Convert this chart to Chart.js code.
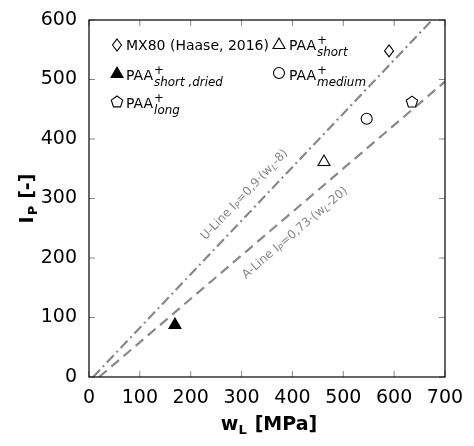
<!DOCTYPE html>
<html><head><meta charset="utf-8">
<script src="https://cdn.jsdelivr.net/npm/chart.js@4"></script>
<style>body{margin:0;background:#fff}#wrap{width:474px;height:446px}</style>
</head><body><div id="wrap"><canvas id="c" width="474" height="446"></canvas></div>
<script>
// data
var mx80 = [{x: 590, y: 548}];
var paaShort = [{x: 462, y: 363}];
var paaShortDried = [{x: 169, y: 89}];
var paaMedium = [{x: 546, y: 434}];
var paaLong = [{x: 635, y: 462}];
var uLine = [{x: 8, y: 0}, {x: 674.7, y: 600}];
var aLine = [{x: 20, y: 0}, {x: 700, y: 496.4}];
var xTicks = [0, 100, 200, 300, 400, 500, 600, 700];
var yTicks = [0, 100, 200, 300, 400, 500, 600];
var FONT = "'DejaVu Sans', sans-serif";

function pentagon(ctx, x, y, r){
    ctx.beginPath();
    for(var i = 0; i < 5; i++){
        var a = -Math.PI/2 + i*2*Math.PI/5;
        var px = x + r*Math.cos(a), py = y + r*Math.sin(a);
        if(i == 0) ctx.moveTo(px, py); else ctx.lineTo(px, py);
    }
    ctx.closePath();
}
function drawMarker(ctx, kind, x, y){
    ctx.save();
    ctx.strokeStyle = '#000'; ctx.fillStyle = '#fff'; ctx.lineWidth = 1.1;
    if(kind == 'diamond'){
        ctx.beginPath(); ctx.moveTo(x, y-6); ctx.lineTo(x+4.5, y); ctx.lineTo(x, y+6); ctx.lineTo(x-4.5, y); ctx.closePath();
        ctx.fill(); ctx.stroke();
    }else if(kind == 'tri' || kind == 'trifill'){
        ctx.beginPath(); ctx.moveTo(x, y-6); ctx.lineTo(x+6, y+4.5); ctx.lineTo(x-6, y+4.5); ctx.closePath();
        if(kind == 'trifill') ctx.fillStyle = '#000';
        ctx.fill(); ctx.stroke();
    }else if(kind == 'circle'){
        ctx.beginPath(); ctx.arc(x, y, 5.5, 0, 2*Math.PI); ctx.fill(); ctx.stroke();
    }else if(kind == 'pent'){
        pentagon(ctx, x, y, 6); ctx.fill(); ctx.stroke();
    }
    ctx.restore();
}
// text with sub/superscripts: parts [text, 'n'|'sub'|'sup'|'subsup', extra]
function richText(ctx, x, y, base, sup, sub, size, color){
    ctx.save();
    ctx.fillStyle = color; ctx.textBaseline = 'alphabetic'; ctx.textAlign = 'left';
    ctx.font = size + 'px ' + FONT;
    ctx.fillText(base, x, y);
    var w = ctx.measureText(base).width;
    ctx.font = (size*0.85) + 'px ' + FONT;
    if(sup) ctx.fillText(sup, x + w + 1, y - size*0.45);
    ctx.font = 'italic ' + (size*0.85) + 'px ' + FONT;
    if(sub) ctx.fillText(sub, x + w + 1, y + size*0.4);
    ctx.restore();
}

var customPlugin = {
    id: 'custom',
    afterDatasetsDraw: function(chart){
        var ctx = chart.ctx, a = chart.chartArea;
        var xs = chart.scales.x, ys = chart.scales.y;
        // markers
        var sets = [[mx80,'diamond'],[paaShort,'tri'],[paaShortDried,'trifill'],[paaMedium,'circle'],[paaLong,'pent']];
        sets.forEach(function(s){
            s[0].forEach(function(p){ drawMarker(ctx, s[1], xs.getPixelForValue(p.x), ys.getPixelForValue(p.y)); });
        });
        // inward tick marks
        ctx.save();
        ctx.strokeStyle = '#888'; ctx.lineWidth = 1;
        xTicks.forEach(function(v){
            var px = xs.getPixelForValue(v);
            ctx.beginPath(); ctx.moveTo(px, a.bottom); ctx.lineTo(px, a.bottom-6);
            ctx.moveTo(px, a.top); ctx.lineTo(px, a.top+6); ctx.stroke();
        });
        yTicks.forEach(function(v){
            var py = ys.getPixelForValue(v);
            ctx.beginPath(); ctx.moveTo(a.left, py); ctx.lineTo(a.left+6, py);
            ctx.moveTo(a.right, py); ctx.lineTo(a.right-6, py); ctx.stroke();
        });
        ctx.strokeStyle = '#000'; ctx.lineWidth = 1.2;
        ctx.strokeRect(a.left, a.top, a.right-a.left, a.bottom-a.top);
        ctx.restore();
        // line labels
        function lineLabel(line, vx, vy, text1, sub1, text2, sub2, text3){
            var dx = xs.getPixelForValue(line[1].x) - xs.getPixelForValue(line[0].x);
            var dy = ys.getPixelForValue(line[1].y) - ys.getPixelForValue(line[0].y);
            var ang = Math.atan2(dy, dx);
            ctx.save();
            ctx.translate(xs.getPixelForValue(vx), ys.getPixelForValue(vy));
            ctx.rotate(ang);
            ctx.fillStyle = '#888'; ctx.textBaseline = 'middle';
            var f = '12px ' + FONT, fs = 'italic 9px ' + FONT;
            var parts = [[text1,f,0],[sub1,fs,3],[text2,f,0],[sub2,fs,3],[text3,f,0]];
            var tw = 0;
            parts.forEach(function(p){ ctx.font = p[1]; tw += ctx.measureText(p[0]).width; });
            var cx = -tw/2;
            parts.forEach(function(p){ ctx.font = p[1]; ctx.fillText(p[0], cx, p[2]); cx += ctx.measureText(p[0]).width; });
            ctx.restore();
        }
        lineLabel(uLine, 306, 306, 'U-Line I', 'P', '=0,9\u00b7(w', 'L', '-8)');
        lineLabel(aLine, 405, 242, 'A-Line I', 'P', '=0,73\u00b7(w', 'L', '-20)');
        // legend
        var L = a.left;
        drawMarker(ctx, 'diamond', L+28, a.top+25);
        richText(ctx, L+37, a.top+30, 'MX80 (Haase, 2016)', '', '', 14, '#000');
        drawMarker(ctx, 'tri', L+190, a.top+24);
        richText(ctx, L+200, a.top+30, 'PAA', '+', 'short', 14, '#000');
        drawMarker(ctx, 'trifill', L+28, a.top+53);
        richText(ctx, L+37, a.top+60, 'PAA', '+', 'short ,dried', 14, '#000');
        drawMarker(ctx, 'circle', L+190, a.top+53);
        richText(ctx, L+200, a.top+60, 'PAA', '+', 'medium', 14, '#000');
        drawMarker(ctx, 'pent', L+28, a.top+82);
        richText(ctx, L+37, a.top+88, 'PAA', '+', 'long', 14, '#000');
        // axis titles
        ctx.save();
        ctx.fillStyle = '#000'; ctx.textBaseline = 'alphabetic';
        ctx.font = 'bold 19px ' + FONT;
        var t1 = 'w', t2 = '[MPa]';
        var w1 = ctx.measureText(t1).width, w2 = ctx.measureText(t2).width;
        ctx.font = 'bold 13px ' + FONT; var ws = ctx.measureText('L').width;
        var total = w1 + ws + 8 + w2, sx = (a.left+a.right)/2 - total/2 + 2, by = 430;
        ctx.font = 'bold 19px ' + FONT; ctx.fillText(t1, sx, by);
        ctx.font = 'bold 13px ' + FONT; ctx.fillText('L', sx+w1, by+4);
        ctx.font = 'bold 19px ' + FONT; ctx.fillText(t2, sx+w1+ws+8, by);
        ctx.translate(33, (a.top+a.bottom)/2);
        ctx.rotate(-Math.PI/2);
        ctx.font = 'bold 19px ' + FONT;
        var u1 = 'I', u2 = '[-]';
        var v1 = ctx.measureText(u1).width, v2 = ctx.measureText(u2).width;
        ctx.font = 'bold 13px ' + FONT; var vs = ctx.measureText('P').width;
        var tt = v1 + vs + 8 + v2, s2 = -tt/2;
        ctx.font = 'bold 19px ' + FONT; ctx.fillText(u1, s2, 0);
        ctx.font = 'bold 13px ' + FONT; ctx.fillText('P', s2+v1+1, 4);
        ctx.font = 'bold 19px ' + FONT; ctx.fillText(u2, s2+v1+vs+8, 0);
        ctx.restore();
    }
};

new Chart(document.getElementById('c'), {
    type: 'scatter',
    data: {
        datasets: [
            {label: 'U-Line', data: uLine, showLine: true, borderColor: '#888', borderWidth: 2.2, borderDash: [10, 4, 2, 4], pointRadius: 0},
            {label: 'A-Line', data: aLine, showLine: true, borderColor: '#888', borderWidth: 2.2, borderDash: [10, 6], pointRadius: 0}
        ]
    },
    options: {
        responsive: false,
        animation: false,
        layout: {padding: {left: 0, right: 29, top: 20, bottom: 0}},
        plugins: {legend: {display: false}, tooltip: {enabled: false}},
        scales: {
            x: {
                type: 'linear', min: 0, max: 700,
                afterBuildTicks: function(s){ s.ticks = xTicks.map(function(v){ return {value: v}; }); },
                afterFit: function(s){ s.height = 69; },
                grid: {display: false},
                border: {display: false},
                ticks: {color: '#000', font: {size: 19, family: FONT}, padding: 2, maxRotation: 0}
            },
            y: {
                type: 'linear', min: 0, max: 600,
                afterBuildTicks: function(s){ s.ticks = yTicks.map(function(v){ return {value: v}; }); },
                afterFit: function(s){ s.width = 89; },
                grid: {display: false},
                border: {display: false},
                ticks: {color: '#000', font: {size: 19, family: FONT}, padding: 4}
            }
        }
    },
    plugins: [customPlugin]
});
</script>
</body></html>
